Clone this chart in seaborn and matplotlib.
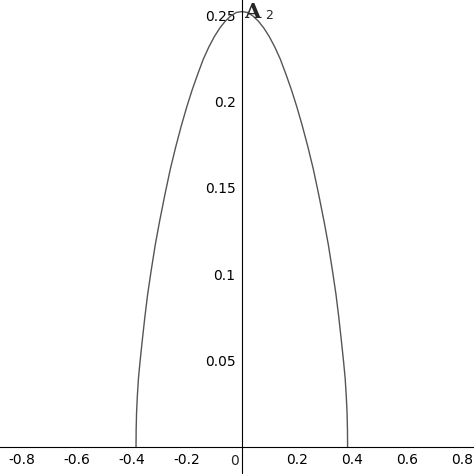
import matplotlib
matplotlib.use("Agg")
import matplotlib.pyplot as plt
import seaborn as sns
import pandas as pd
import numpy as np

left_x = [-0.385, -0.3845, -0.383, -0.38, -0.376, -0.37, -0.362, -0.353, -0.343, -0.33, -0.315, -0.3, -0.28, -0.26, -0.24,
          -0.22, -0.2, -0.18, -0.16, -0.14, -0.12, -0.1, -0.08, -0.06, -0.04, -0.02]
left_y = [0.0, 0.01, 0.02, 0.03, 0.04, 0.05, 0.062, 0.075, 0.088, 0.102, 0.117, 0.13, 0.146, 0.161, 0.174,
          0.186, 0.197, 0.207, 0.216, 0.2245, 0.2315, 0.2375, 0.2425, 0.2465, 0.2495, 0.2515]
xs = left_x + [0.0] + [-v for v in reversed(left_x)]
ys = left_y + [0.252] + list(reversed(left_y))
xticks = [-0.8, -0.6, -0.4, -0.2, 0.2, 0.4, 0.6, 0.8]
yticks = [0.05, 0.1, 0.15, 0.2, 0.25]

sns.set_style("white")
fig = plt.figure(figsize=(4.74, 4.74), dpi=100)
ax = fig.add_axes([0, 0, 1, 1])
df = pd.DataFrame({"x": xs, "y": ys})
sns.lineplot(data=df, x="x", y="y", sort=False, color="#555555", lw=1, ax=ax)
ax.set_xlim(-0.88, 0.845)
ax.set_ylim(-0.0156, 0.2587)
for s in ["top", "right"]:
    ax.spines[s].set_visible(False)
ax.spines["left"].set_position(("data", 0))
ax.spines["bottom"].set_position(("data", 0))
ax.spines["left"].set_color("black"); ax.spines["bottom"].set_color("black")
ax.spines["left"].set_linewidth(0.8); ax.spines["bottom"].set_linewidth(0.8)
ax.set_xticks(xticks)
ax.set_xticklabels([f"{v:g}" for v in xticks], family="DejaVu Sans", fontsize=10, color="black")
ax.set_yticks(yticks)
ax.set_yticklabels([f"{v:g}" for v in yticks], family="DejaVu Sans", fontsize=10, color="black")
ax.set_yticks(np.arange(0.01, 0.26, 0.01), minor=True)
ax.set_xticks(np.arange(-0.85, 0.85, 0.05), minor=True)
ax.tick_params(axis="both", which="major", length=5, direction="inout", color="black", pad=2)
ax.tick_params(axis="both", which="minor", length=3, width=0.6, direction="inout", color="black")
ax.set_xlabel(""); ax.set_ylabel("")
ax.text(-0.01, -0.004, "0", ha="right", va="top", fontsize=10)
ax.text(0.01, 0.246, "A", fontsize=15, fontweight="bold", family="DejaVu Serif", va="bottom")
ax.text(0.085, 0.246, "2", fontsize=9, va="bottom")
fig.savefig("out.png", dpi=100)
